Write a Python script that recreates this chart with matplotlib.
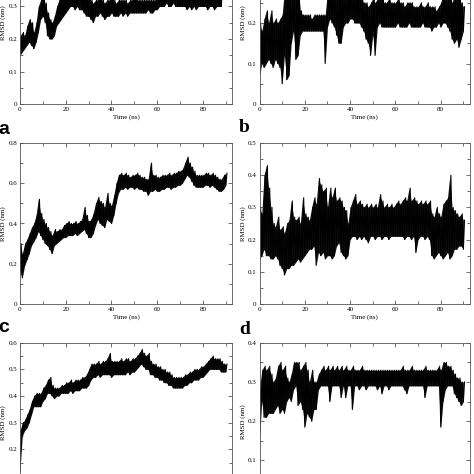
import numpy as np
import matplotlib
matplotlib.use("Agg")
import matplotlib.pyplot as plt
from matplotlib.ticker import MultipleLocator, FuncFormatter

# RMSD (nm): lower and upper edge of the noisy band, one value per ns
a_lo = [0.15, 0.16, 0.17, 0.18, 0.19, 0.18, 0.17, 0.19, 0.22, 0.26,
        0.27, 0.25, 0.21, 0.20, 0.20, 0.21, 0.24, 0.25, 0.26, 0.27,
        0.28, 0.29, 0.30, 0.30, 0.29, 0.30, 0.29, 0.29, 0.28, 0.27,
        0.27, 0.26, 0.25, 0.27, 0.27, 0.28, 0.27, 0.26, 0.27, 0.27,
        0.28, 0.27, 0.27, 0.27, 0.28, 0.27, 0.28, 0.27, 0.28, 0.28,
        0.28, 0.28, 0.28, 0.28, 0.28, 0.28, 0.29, 0.28, 0.28, 0.29,
        0.29, 0.30, 0.30, 0.30, 0.31, 0.30, 0.30, 0.31, 0.30, 0.30,
        0.30, 0.30, 0.30, 0.29, 0.30, 0.29, 0.30, 0.29, 0.30, 0.30,
        0.30, 0.30, 0.29, 0.30, 0.30, 0.29, 0.30, 0.30, 0.30]
a_hi = [0.21, 0.22, 0.21, 0.24, 0.26, 0.25, 0.22, 0.25, 0.30, 0.32,
        0.34, 0.31, 0.28, 0.26, 0.25, 0.27, 0.30, 0.32, 0.33, 0.34,
        0.35, 0.36, 0.36, 0.36, 0.35, 0.36, 0.35, 0.35, 0.34, 0.33,
        0.33, 0.32, 0.31, 0.32, 0.32, 0.33, 0.32, 0.31, 0.32, 0.32,
        0.33, 0.32, 0.31, 0.32, 0.32, 0.32, 0.32, 0.31, 0.32, 0.32,
        0.33, 0.32, 0.32, 0.32, 0.32, 0.32, 0.32, 0.32, 0.32, 0.32,
        0.33, 0.35, 0.35, 0.35, 0.36, 0.35, 0.35, 0.36, 0.35, 0.35,
        0.35, 0.35, 0.35, 0.34, 0.35, 0.34, 0.35, 0.34, 0.35, 0.35,
        0.35, 0.35, 0.34, 0.35, 0.35, 0.34, 0.35, 0.35, 0.35]

b_lo = [0.07, 0.10, 0.09, 0.10, 0.11, 0.10, 0.09, 0.11, 0.10, 0.09,
        0.05, 0.12, 0.06, 0.07, 0.15, 0.18, 0.11, 0.12, 0.17, 0.18,
        0.18, 0.18, 0.18, 0.18, 0.18, 0.18, 0.18, 0.18, 0.18, 0.10,
        0.19, 0.21, 0.20, 0.19, 0.17, 0.15, 0.15, 0.19, 0.20, 0.20,
        0.21, 0.21, 0.20, 0.20, 0.20, 0.19, 0.18, 0.16, 0.15, 0.12,
        0.17, 0.12, 0.19, 0.20, 0.19, 0.19, 0.19, 0.19, 0.19, 0.19,
        0.19, 0.20, 0.19, 0.19, 0.19, 0.19, 0.20, 0.19, 0.19, 0.19,
        0.19, 0.19, 0.20, 0.19, 0.19, 0.19, 0.18, 0.19, 0.19, 0.20,
        0.19, 0.20, 0.20, 0.19, 0.18, 0.16, 0.15, 0.16, 0.14, 0.16, 0.18]
b_hi = [0.20, 0.18, 0.21, 0.23, 0.20, 0.23, 0.20, 0.21, 0.20, 0.21,
        0.22, 0.28, 0.27, 0.28, 0.27, 0.28, 0.26, 0.29, 0.23, 0.22,
        0.22, 0.22, 0.22, 0.21, 0.22, 0.22, 0.22, 0.22, 0.22, 0.22,
        0.28, 0.29, 0.28, 0.28, 0.27, 0.28, 0.27, 0.28, 0.27, 0.28,
        0.28, 0.27, 0.27, 0.26, 0.27, 0.26, 0.25, 0.25, 0.24, 0.25,
        0.26, 0.25, 0.26, 0.27, 0.26, 0.25, 0.25, 0.26, 0.25, 0.25,
        0.25, 0.26, 0.25, 0.25, 0.24, 0.25, 0.25, 0.25, 0.24, 0.24,
        0.24, 0.25, 0.24, 0.24, 0.25, 0.24, 0.24, 0.24, 0.23, 0.24,
        0.25, 0.27, 0.27, 0.26, 0.27, 0.25, 0.27, 0.26, 0.26, 0.25, 0.24]

c_lo = [0.16, 0.13, 0.19, 0.22, 0.25, 0.29, 0.31, 0.33, 0.36, 0.34,
        0.32, 0.30, 0.29, 0.27, 0.25, 0.29, 0.30, 0.31, 0.32, 0.33,
        0.33, 0.34, 0.34, 0.34, 0.35, 0.34, 0.35, 0.36, 0.37, 0.35,
        0.33, 0.33, 0.35, 0.39, 0.42, 0.40, 0.39, 0.38, 0.42, 0.41,
        0.40, 0.44, 0.50, 0.55, 0.57, 0.57, 0.58, 0.57, 0.58, 0.58,
        0.57, 0.58, 0.57, 0.57, 0.56, 0.56, 0.54, 0.56, 0.56, 0.57,
        0.56, 0.56, 0.57, 0.57, 0.58, 0.58, 0.57, 0.58, 0.58, 0.59,
        0.59, 0.60, 0.62, 0.64, 0.63, 0.61, 0.59, 0.58, 0.58, 0.58,
        0.58, 0.59, 0.59, 0.58, 0.59, 0.58, 0.57, 0.56, 0.56, 0.57, 0.59]
c_hi = [0.30, 0.25, 0.30, 0.32, 0.35, 0.38, 0.40, 0.44, 0.52, 0.45,
        0.42, 0.40, 0.38, 0.36, 0.34, 0.37, 0.36, 0.37, 0.37, 0.39,
        0.40, 0.41, 0.40, 0.40, 0.41, 0.40, 0.41, 0.42, 0.48, 0.44,
        0.41, 0.42, 0.45, 0.50, 0.53, 0.51, 0.50, 0.48, 0.55, 0.50,
        0.49, 0.54, 0.60, 0.64, 0.65, 0.64, 0.65, 0.64, 0.63, 0.64,
        0.64, 0.65, 0.64, 0.63, 0.63, 0.62, 0.62, 0.70, 0.64, 0.64,
        0.63, 0.63, 0.64, 0.64, 0.64, 0.65, 0.64, 0.65, 0.65, 0.66,
        0.66, 0.67, 0.70, 0.73, 0.70, 0.68, 0.66, 0.64, 0.64, 0.64,
        0.64, 0.65, 0.65, 0.64, 0.65, 0.64, 0.63, 0.62, 0.62, 0.64, 0.65]

d_lo = [0.14, 0.15, 0.17, 0.15, 0.15, 0.14, 0.14, 0.15, 0.14, 0.12,
        0.11, 0.09, 0.11, 0.11, 0.12, 0.12, 0.13, 0.14, 0.13, 0.14,
        0.15, 0.16, 0.17, 0.17, 0.18, 0.12, 0.16, 0.15, 0.16, 0.14,
        0.15, 0.15, 0.14, 0.15, 0.18, 0.19, 0.16, 0.15, 0.14, 0.15,
        0.20, 0.21, 0.21, 0.20, 0.21, 0.20, 0.21, 0.20, 0.19, 0.21,
        0.21, 0.20, 0.21, 0.21, 0.20, 0.21, 0.21, 0.20, 0.21, 0.21,
        0.21, 0.21, 0.21, 0.21, 0.20, 0.21, 0.21, 0.20, 0.21, 0.16,
        0.20, 0.21, 0.21, 0.20, 0.21, 0.20, 0.15, 0.14, 0.15, 0.16,
        0.15, 0.14, 0.15, 0.16, 0.14, 0.15, 0.17, 0.17, 0.18, 0.18, 0.17]
d_hi = [0.30, 0.28, 0.40, 0.43, 0.36, 0.30, 0.25, 0.24, 0.27, 0.23,
        0.24, 0.22, 0.25, 0.26, 0.32, 0.27, 0.26, 0.27, 0.25, 0.33,
        0.28, 0.27, 0.26, 0.30, 0.33, 0.31, 0.39, 0.37, 0.35, 0.36,
        0.30, 0.36, 0.33, 0.36, 0.32, 0.33, 0.32, 0.30, 0.29, 0.25,
        0.30, 0.32, 0.34, 0.31, 0.32, 0.31, 0.30, 0.31, 0.30, 0.31,
        0.30, 0.31, 0.30, 0.34, 0.32, 0.30, 0.31, 0.30, 0.31, 0.30,
        0.31, 0.32, 0.31, 0.32, 0.33, 0.32, 0.36, 0.32, 0.33, 0.32,
        0.31, 0.32, 0.31, 0.32, 0.31, 0.32, 0.28, 0.27, 0.30, 0.28,
        0.27, 0.31, 0.32, 0.33, 0.40, 0.30, 0.29, 0.28, 0.27, 0.28, 0.26]

e_lo = [0.12, 0.25, 0.27, 0.28, 0.30, 0.33, 0.36, 0.36, 0.36, 0.36,
        0.38, 0.39, 0.41, 0.41, 0.40, 0.39, 0.40, 0.40, 0.41, 0.41,
        0.41, 0.41, 0.42, 0.41, 0.42, 0.42, 0.42, 0.43, 0.43, 0.43,
        0.44, 0.46, 0.47, 0.47, 0.48, 0.47, 0.48, 0.48, 0.48, 0.48,
        0.47, 0.48, 0.48, 0.48, 0.48, 0.48, 0.48, 0.49, 0.48, 0.49,
        0.49, 0.50, 0.51, 0.52, 0.51, 0.50, 0.50, 0.48, 0.48, 0.47,
        0.47, 0.46, 0.46, 0.45, 0.45, 0.44, 0.44, 0.43, 0.43, 0.43,
        0.43, 0.43, 0.44, 0.44, 0.45, 0.45, 0.46, 0.46, 0.46, 0.47,
        0.47, 0.48, 0.49, 0.50, 0.50, 0.50, 0.50, 0.50, 0.49, 0.49, 0.49]
e_hi = [0.27, 0.30, 0.31, 0.33, 0.35, 0.38, 0.40, 0.41, 0.41, 0.41,
        0.43, 0.44, 0.46, 0.47, 0.44, 0.43, 0.43, 0.43, 0.44, 0.44,
        0.45, 0.45, 0.46, 0.45, 0.46, 0.46, 0.46, 0.47, 0.47, 0.48,
        0.50, 0.52, 0.52, 0.52, 0.53, 0.52, 0.53, 0.53, 0.54, 0.56,
        0.53, 0.53, 0.53, 0.53, 0.54, 0.53, 0.54, 0.54, 0.53, 0.54,
        0.54, 0.55, 0.56, 0.575, 0.56, 0.55, 0.56, 0.53, 0.52, 0.52,
        0.51, 0.51, 0.50, 0.50, 0.49, 0.49, 0.48, 0.47, 0.47, 0.47,
        0.47, 0.47, 0.48, 0.48, 0.49, 0.49, 0.50, 0.50, 0.50, 0.51,
        0.51, 0.52, 0.53, 0.54, 0.55, 0.54, 0.54, 0.54, 0.53, 0.52, 0.52]

f_lo = [0.16, 0.25, 0.21, 0.21, 0.22, 0.22, 0.22, 0.23, 0.24, 0.22,
        0.23, 0.22, 0.25, 0.26, 0.25, 0.28, 0.29, 0.24, 0.25, 0.23,
        0.185, 0.22, 0.21, 0.20, 0.23, 0.23, 0.28, 0.29, 0.29, 0.29,
        0.29, 0.25, 0.29, 0.29, 0.29, 0.29, 0.26, 0.29, 0.26, 0.29,
        0.29, 0.23, 0.29, 0.29, 0.28, 0.29, 0.29, 0.28, 0.29, 0.29,
        0.29, 0.29, 0.28, 0.29, 0.27, 0.29, 0.29, 0.28, 0.29, 0.29,
        0.29, 0.29, 0.29, 0.29, 0.28, 0.27, 0.29, 0.29, 0.29, 0.29,
        0.29, 0.29, 0.29, 0.26, 0.29, 0.29, 0.29, 0.29, 0.29, 0.29,
        0.185, 0.25, 0.28, 0.29, 0.29, 0.29, 0.27, 0.26, 0.25, 0.24, 0.25]
f_hi = [0.28, 0.33, 0.34, 0.33, 0.34, 0.32, 0.30, 0.31, 0.34, 0.35,
        0.33, 0.34, 0.31, 0.30, 0.32, 0.35, 0.35, 0.35, 0.33, 0.34,
        0.35, 0.33, 0.30, 0.33, 0.30, 0.30, 0.32, 0.33, 0.34, 0.33,
        0.34, 0.33, 0.34, 0.33, 0.34, 0.33, 0.34, 0.33, 0.34, 0.33,
        0.33, 0.34, 0.33, 0.33, 0.33, 0.34, 0.33, 0.33, 0.33, 0.33,
        0.33, 0.33, 0.33, 0.33, 0.33, 0.33, 0.33, 0.33, 0.33, 0.33,
        0.33, 0.33, 0.33, 0.34, 0.33, 0.33, 0.33, 0.34, 0.33, 0.33,
        0.33, 0.33, 0.33, 0.34, 0.33, 0.33, 0.33, 0.33, 0.33, 0.34,
        0.33, 0.35, 0.35, 0.34, 0.34, 0.33, 0.32, 0.31, 0.31, 0.30, 0.30]

SERIF = "Liberation Serif"

fig = plt.figure(figsize=(4.74, 4.74), dpi=100)
fig.patch.set_facecolor("white")

W = 474.0


def add_panel(left_px, top_px, width_px, height_px, lo, hi, ymax, ymajor):
    # positions given in pixels from the top-left corner; the figure crops some panels
    ax = fig.add_axes([left_px / W, 1 - (top_px + height_px) / W, width_px / W, height_px / W])
    t = np.arange(len(lo))
    # the dense trajectory: a dark band between both edges, plus a zigzag for the spikes
    ax.fill_between(t, lo, hi, color="#111111", lw=0)
    tz = np.column_stack([t, t + 0.5]).ravel()
    vz = np.column_stack([lo, hi]).ravel()
    ax.plot(tz, vz, color="black", lw=0.8)
    ax.set_xlim(0, 92.7)
    ax.set_ylim(0, ymax)
    ax.xaxis.set_major_locator(MultipleLocator(20))
    ax.xaxis.set_minor_locator(MultipleLocator(10))
    ax.yaxis.set_major_locator(MultipleLocator(ymajor))
    ax.yaxis.set_minor_locator(MultipleLocator(ymajor / 2))
    ax.yaxis.set_major_formatter(FuncFormatter(lambda v, p: "%g" % round(v, 2)))
    ax.tick_params(which="both", direction="in", top=True, right=True,
                   width=0.5, colors="#333333", labelcolor="black")
    ax.tick_params(which="major", length=3.2, labelsize=5, pad=2)
    ax.tick_params(which="minor", length=2)
    for lab in ax.get_xticklabels() + ax.get_yticklabels():
        lab.set_family(SERIF)
    for s in ax.spines.values():
        s.set_linewidth(0.6)
        s.set_color("#555555")
    ax.set_xlabel("Time (ns)", family=SERIF, fontsize=5, labelpad=2)
    ax.set_ylabel("RMSD (nm)", family=SERIF, fontsize=5, labelpad=1.5)
    return ax


add_panel(20, -58.5, 212, 162.5, a_lo, a_hi, 0.5, 0.1)
add_panel(259.5, -58, 210, 162, b_lo, b_hi, 0.4, 0.1)
add_panel(20, 143, 212, 161, c_lo, c_hi, 0.8, 0.2)
add_panel(259.5, 143, 210, 161, d_lo, d_hi, 0.5, 0.1)
add_panel(20, 342.7, 212, 160, e_lo, e_hi, 0.6, 0.1)
add_panel(259.5, 342.7, 210, 157, f_lo, f_hi, 0.4, 0.1)

# panel letters under each plot
fig.text(4 / W, 1 - 130 / W, "a", family="Liberation Sans", weight="bold",
         fontsize=14, ha="center", va="center")
fig.text(244.5 / W, 1 - 128 / W, "b", family=SERIF, weight="bold",
         fontsize=14, ha="center", va="center")
fig.text(3.5 / W, 1 - 328 / W, "c", family="Liberation Sans", weight="bold",
         fontsize=14, ha="center", va="center")
fig.text(244.5 / W, 1 - 329 / W, "d", family=SERIF, weight="bold",
         fontsize=14, ha="center", va="center")

fig.savefig("out.png", dpi=100)
